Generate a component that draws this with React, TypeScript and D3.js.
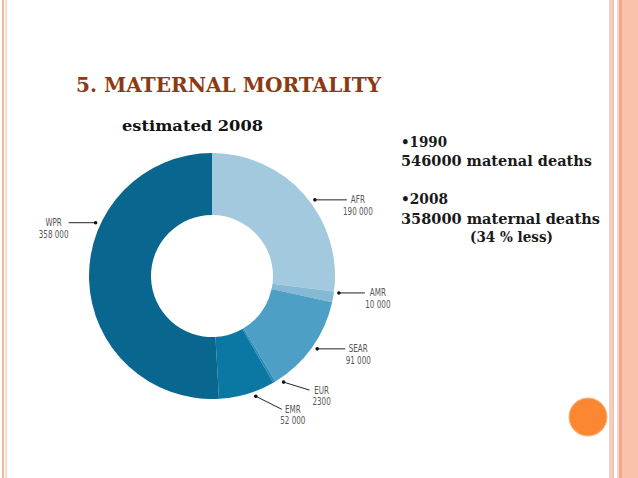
import React from 'react';
import * as d3 from 'd3';

// WHO regions, estimated maternal deaths 2008 (as labelled on the slide)
const regions = ['AFR', 'AMR', 'SEAR', 'EUR', 'EMR', 'WPR'];
const deaths = [190000, 10000, 91000, 2300, 52000, 358000];
const deathLabels = ['190 000', '10 000', '91 000', '2300', '52 000', '358 000'];
const colors = ['#a3c9de', '#86b9d3', '#4d9fc5', '#2a8ab5', '#0a78a2', '#08668f'];

const notes = [
  { text: '\u20221990', x: 401, y: 147, w: 46 },
  { text: '546000 matenal deaths', x: 401, y: 166, w: 191 },
  { text: '\u20222008', x: 401, y: 204, w: 47 },
  { text: '358000 maternal deaths', x: 401, y: 224, w: 199 },
  { text: '(34 % less)', x: 470, y: 242, w: 83 },
];

// leader line layout: dot angle (deg, clockwise from top), line end offset, text offset
const labelLayout = [
  { angle: 53.5, dx: 32, dy: 0, tx: 11 },
  { angle: 97.6, dx: 26, dy: 0, tx: 13 },
  { angle: 124.7, dx: 28, dy: 0, tx: 13 },
  { angle: 146, dx: 26, dy: 8, tx: 12 },
  { angle: 160, dx: 26, dy: 13, tx: 11 },
  { angle: 294.6, dx: -27, dy: 0, tx: -15 },
];

const width = 638;
const height = 478;
const cx = 212;
const cy = 276;
const outerR = 123;
const innerR = 61;
const dotR = 128;

export default function App() {
  const data = regions.map((r, i) => ({ region: r, value: deaths[i], label: deathLabels[i], color: colors[i] }));
  const pie = d3.pie<any>().sort(null).value(d => d.value).startAngle(0).endAngle(2 * Math.PI);
  const arc = d3.arc<any>().innerRadius(innerR).outerRadius(outerR);
  const arcs = pie(data);

  const labelFont = '"DejaVu Sans Condensed", "Liberation Sans", sans-serif';
  const serif = '"DejaVu Serif", "Liberation Serif", serif';

  return (
    <svg width={width} height={height} style={{ position: 'absolute', left: 0, top: 0, background: '#fff' }}>
      {/* slide borders */}
      <rect x={2} y={0} width={2} height={height} fill="#f2b6a2" />
      <rect x={5} y={0} width={2} height={height} fill="#f8dcd3" />
      <rect x={609} y={0} width={3} height={height} fill="#f6cfc4" />
      <rect x={612} y={0} width={2} height={height} fill="#f5c3b5" />
      <rect x={617} y={0} width={2} height={height} fill="#f9d5c8" />
      <rect x={619} y={0} width={3} height={height} fill="#efa88d" />
      <rect x={622} y={0} width={16} height={height} fill="#fcc1ad" />

      <text x={76} y={92} fontFamily={serif} fontWeight="bold" fontSize={20} fill="#8c3a12"
        textLength={305} lengthAdjust="spacingAndGlyphs">5. MATERNAL MORTALITY</text>

      <text x={122} y={131} fontFamily={serif} fontWeight="bold" fontSize={15} fill="#111"
        textLength={141} lengthAdjust="spacingAndGlyphs">estimated 2008</text>

      <g transform={`translate(${cx},${cy})`}>
        {arcs.map(a => (
          <path key={a.data.region} d={arc(a) as string} fill={a.data.color} />
        ))}
      </g>

      {arcs.map((a, i) => {
        const l = labelLayout[i];
        const t = (l.angle * Math.PI) / 180;
        const x0 = cx + dotR * Math.sin(t);
        const y0 = cy - dotR * Math.cos(t);
        const x1 = x0 + l.dx;
        const y1 = y0 + l.dy;
        return (
          <g key={a.data.region}>
            <line x1={x0} y1={y0} x2={x1} y2={y1} stroke="#222" strokeWidth={1} />
            <circle cx={x0} cy={y0} r={1.8} fill="#111" />
            <g transform={`translate(${x1 + l.tx},0) scale(0.8,1)`}>
              <text x={0} y={y1 + 3.5} textAnchor="middle" fontFamily={labelFont} fontSize={10} fill="#555">
                {a.data.region}
              </text>
              <text x={0} y={y1 + 15} textAnchor="middle" fontFamily={labelFont} fontSize={10} fill="#555">
                {a.data.label}
              </text>
            </g>
          </g>
        );
      })}

      {notes.map(n => (
        <text key={n.text} x={n.x} y={n.y} fontFamily={serif} fontWeight="bold" fontSize={15} fill="#1a1a1a"
          textLength={n.w} lengthAdjust="spacingAndGlyphs">
          {n.text}
        </text>
      ))}

      <circle cx={588} cy={417} r={19} fill="#fc8733" stroke="#f8b27a" strokeWidth={1} />
    </svg>
  );
}
